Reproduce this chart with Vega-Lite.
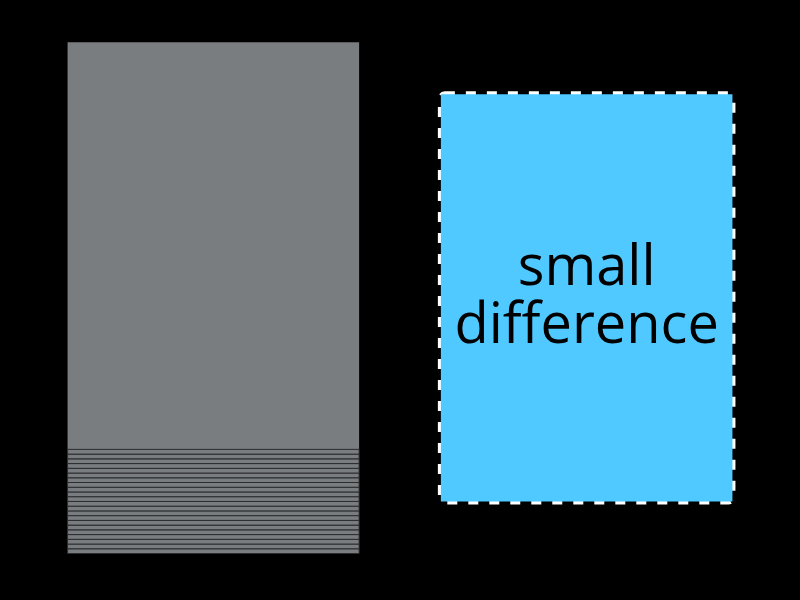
{
  "$schema": "https://vega.github.io/schema/vega-lite/v6.json",
  "width": 800,
  "height": 600,
  "padding": 0,
  "autosize": "none",
  "background": "black",
  "config": {"view": {"stroke": null}, "text": {"lineBreak": "\n"}},
  "datasets": {
    "left": [
      {"group": "A", "part": "big", "value": 86, "k": 23},
      {"group": "A", "part": "piece", "value": 1, "k": 1},
      {"group": "A", "part": "piece", "value": 1, "k": 2},
      {"group": "A", "part": "piece", "value": 1, "k": 3},
      {"group": "A", "part": "piece", "value": 1, "k": 4},
      {"group": "A", "part": "piece", "value": 1, "k": 5},
      {"group": "A", "part": "piece", "value": 1, "k": 6},
      {"group": "A", "part": "piece", "value": 1, "k": 7},
      {"group": "A", "part": "piece", "value": 1, "k": 8},
      {"group": "A", "part": "piece", "value": 1, "k": 9},
      {"group": "A", "part": "piece", "value": 1, "k": 10},
      {"group": "A", "part": "piece", "value": 1, "k": 11},
      {"group": "A", "part": "piece", "value": 1, "k": 12},
      {"group": "A", "part": "piece", "value": 1, "k": 13},
      {"group": "A", "part": "piece", "value": 1, "k": 14},
      {"group": "A", "part": "piece", "value": 1, "k": 15},
      {"group": "A", "part": "piece", "value": 1, "k": 16},
      {"group": "A", "part": "piece", "value": 1, "k": 17},
      {"group": "A", "part": "piece", "value": 1, "k": 18},
      {"group": "A", "part": "piece", "value": 1, "k": 19},
      {"group": "A", "part": "piece", "value": 1, "k": 20},
      {"group": "A", "part": "piece", "value": 1, "k": 21},
      {"group": "A", "part": "piece", "value": 1, "k": 22}
    ],
    "right": [
      {"group": "B", "start": 11, "end": 97, "mid": 54, "label": "small\ndifference"}
    ]
  },
  "layer": [
    {
      "data": {"name": "left"},
      "mark": {"type": "bar", "color": "#7a7d80", "stroke": "#2b2d2f"},
      "encoding": {
        "x": {"field": "group", "type": "nominal", "axis": null,
              "scale": {"domain": ["A", "B"], "paddingInner": 0.219, "paddingOuter": 0.181}},
        "y": {"field": "value", "type": "quantitative", "stack": "zero", "axis": null,
              "scale": {"domain": [0, 108], "range": [553.5, 42.3], "nice": false}},
        "order": {"field": "k", "type": "quantitative"},
        "strokeWidth": {"condition": {"test": "datum.part == 'big'", "value": 0}, "value": 1}
      }
    },
    {
      "data": {"name": "right"},
      "mark": {"type": "bar", "fill": "black", "stroke": "white", "strokeWidth": 6,
               "strokeDash": [10, 11], "cornerRadius": 4},
      "encoding": {
        "x": {"field": "group", "type": "nominal", "axis": null},
        "y": {"field": "start", "type": "quantitative", "axis": null},
        "y2": {"field": "end"}
      }
    },
    {
      "data": {"name": "right"},
      "mark": {"type": "bar", "color": "#4fc9ff"},
      "encoding": {
        "x": {"field": "group", "type": "nominal", "axis": null},
        "y": {"field": "start", "type": "quantitative", "axis": null},
        "y2": {"field": "end"}
      }
    },
    {
      "data": {"name": "right"},
      "mark": {"type": "text", "font": "Open Sans", "fontSize": 56, "color": "black",
               "align": "center", "baseline": "middle", "lineHeight": 58, "dy": -30},
      "encoding": {
        "x": {"field": "group", "type": "nominal", "axis": null},
        "y": {"field": "mid", "type": "quantitative", "axis": null},
        "text": {"field": "label"}
      }
    }
  ]
}
